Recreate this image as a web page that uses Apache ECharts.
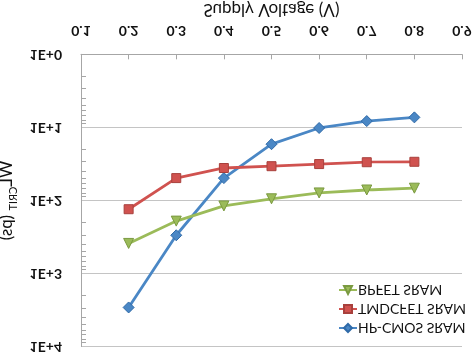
<!DOCTYPE html>
<html><head><meta charset="utf-8">
<script src="https://cdn.jsdelivr.net/npm/echarts@6/dist/echarts.min.js"></script>
<style>
html,body{margin:0;padding:0;background:#fff;}
#c{width:474px;height:353px;transform:scaleY(-1);}
</style></head>
<body><div id="c"></div>
<script>
const voltages = [0.2, 0.3, 0.4, 0.5, 0.6, 0.7, 0.8];
const hpCmos = [2920, 300, 49.5, 17, 10.2, 8.2, 7.3];
const tmdcfet = [132, 49.5, 36, 34, 31.8, 30, 29.6];
const bpfet = [388, 192, 119, 95, 79, 72, 68];
const seriesNames = ['HP-CMOS SRAM', 'TMDCFET SRAM', 'BPFET SRAM'];
const decades = [0, 1, 2, 3];
const minorMultipliers = [2, 3, 4, 5, 6, 7, 8, 9];
// minor tick positions in decade units for a hidden helper axis
const minorTickPos = [];
decades.forEach(d => minorMultipliers.forEach(m => minorTickPos.push(d + Math.log10(m))));

const font = 'Lato, "Open Sans", sans-serif';
function pairs(vals){ return voltages.map((v,i)=>[v, vals[i]]); }
function mk(name, vals, color, border, symbol, size){
  return {
    name, type:'line', data:pairs(vals), yAxisIndex:0,
    symbol, symbolSize:size,
    lineStyle:{color, width:2.8},
    itemStyle:{color, borderColor:border, borderWidth:1},
    emphasis:{disabled:true}
  };
}
const chart = echarts.init(document.getElementById('c'));
chart.setOption({
  animation:false,
  backgroundColor:'#fff',
  textStyle:{fontFamily:font},
  grid:{left:81, right:12, top:6.5, bottom:54.3, containLabel:false, outerBoundsMode:'none'},
  legend:{
    orient:'vertical', left:333, top:13, itemGap:5,
    itemWidth:18, itemHeight:10,
    data:seriesNames,
    textStyle:{fontFamily:font, fontSize:14, color:'#111', padding:[0,0,0,-4]}
  },
  xAxis:{
    type:'value', min:0.1, max:0.9, interval:0.1,
    name:'Supply Voltage (V)', nameLocation:'middle', nameGap:33,
    nameTextStyle:{fontFamily:font, fontSize:17, color:'#111'},
    axisLine:{show:true, lineStyle:{color:'#a6a6a6', width:1}},
    axisTick:{show:true, inside:true, length:5, lineStyle:{color:'#a6a6a6'}},
    splitLine:{show:false},
    axisLabel:{fontFamily:font, fontSize:14, fontWeight:'bold', color:'#111', margin:17,
      formatter:v=>v.toFixed(1)}
  },
  yAxis:[{
    type:'log', logBase:10, min:1, max:10000,
    name:'{m|WL}{s|CRIT}{m| (ps)}', nameLocation:'middle', nameRotate:90, nameGap:55,
    nameTextStyle:{fontFamily:font, color:'#111',
      rich:{m:{fontFamily:font, fontSize:17, color:'#111', verticalAlign:'bottom'},
            s:{fontFamily:font, fontSize:11, color:'#111', verticalAlign:'bottom', padding:[0,0,-4,0]}}},
    axisLine:{show:true, lineStyle:{color:'#a6a6a6', width:1}},
    axisTick:{show:false},
    splitLine:{show:true, lineStyle:{color:'#c4c4c4', width:1}},
    axisLabel:{fontFamily:font, fontSize:14, fontWeight:'bold', color:'#111', margin:19,
      formatter:v=>'1E+' + Math.round(Math.log10(v))}
  },{
    type:'value', min:0, max:4, position:'left', show:true,
    axisLine:{show:false}, splitLine:{show:false}, axisLabel:{show:false},
    axisTick:{show:true, inside:true, length:5, customValues:minorTickPos, lineStyle:{color:'#a6a6a6'}}
  }],
  series:[
    mk(seriesNames[0], hpCmos, '#4a87c5', '#2f6aa8', 'diamond', 11),
    mk(seriesNames[1], tmdcfet, '#d0524f', '#a8403c', 'rect', 9),
    mk(seriesNames[2], bpfet, '#9bbb59', '#7a9a40', 'triangle', 10)
  ]
});
</script></body></html>
